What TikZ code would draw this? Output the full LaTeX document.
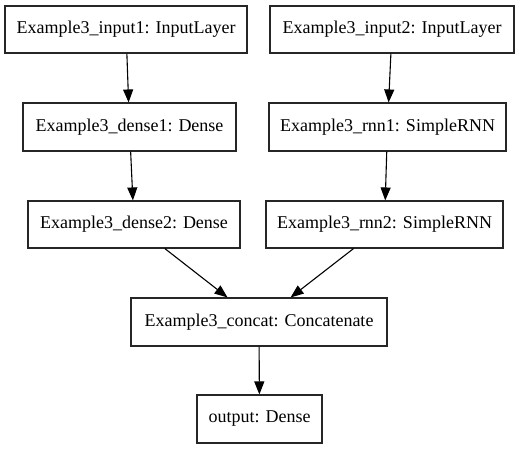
\documentclass[tikz,border=0pt]{standalone}
\usepackage{fontspec}
\setmainfont{Liberation Serif}
\newfontfamily\lyrfont{Liberation Serif}
\usetikzlibrary{arrows.meta}
\begin{document}
\begin{tikzpicture}[x=1pt,y=-1pt,
  layer/.style={draw=black!85, line width=1.1pt, inner sep=0pt, font=\lyrfont\fontsize{18}{20}\selectfont},
  conn/.style={line width=1.1pt, draw=black, -{Triangle[length=13pt,width=10pt]}}]
\useasboundingbox[fill=white] (0,0) rectangle (517,449);
\node[layer, minimum width=242pt, minimum height=47pt] (in1) at (126,29.5) {Example3\_input1: InputLayer};
\node[layer, minimum width=244pt, minimum height=47pt] (in2) at (392,29.5) {Example3\_input2: InputLayer};
\node[layer, minimum width=213pt, minimum height=48pt] (d1) at (129.5,127) {Example3\_dense1: Dense};
\node[layer, minimum width=237pt, minimum height=48pt] (r1) at (387.5,127) {Example3\_rnn1: SimpleRNN};
\node[layer, minimum width=212pt, minimum height=47pt] (d2) at (134,224.5) {Example3\_dense2: Dense};
\node[layer, minimum width=237pt, minimum height=47pt] (r2) at (384.5,224.5) {Example3\_rnn2: SimpleRNN};
\node[layer, minimum width=256pt, minimum height=48pt] (cc) at (259,322) {Example3\_concat: Concatenate};
\node[layer, minimum width=125pt, minimum height=48pt] (out) at (259.5,419) {output: Dense};
\draw[conn] (in1) -- (d1);
\draw[conn] (in2) -- (r1);
\draw[conn] (d1) -- (d2);
\draw[conn] (r1) -- (r2);
\draw[conn] (d2) -- (cc);
\draw[conn] (r2) -- (cc);
\draw[conn] (cc) -- (out);
\end{tikzpicture}
\end{document}
